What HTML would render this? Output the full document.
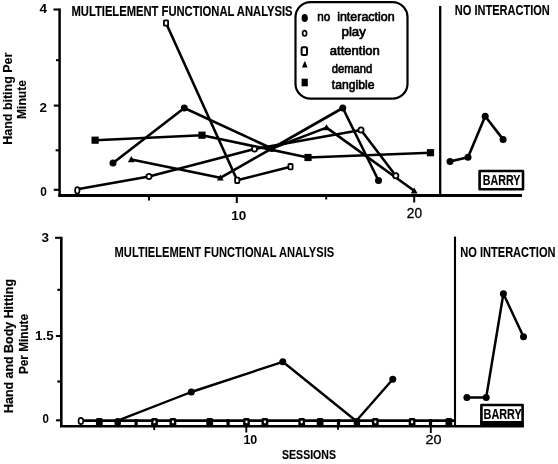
<!DOCTYPE html>
<html><head><meta charset="utf-8"><title>Functional analysis graph</title>
<style>
html,body{margin:0;padding:0;background:#fff;}
svg{display:block;}
text{font-family:"Liberation Sans",sans-serif;fill:#000;stroke:none;}
</style></head>
<body>
<svg width="558" height="464" viewBox="0 0 558 464">
<rect width="558" height="464" fill="#fff"/>
<g stroke="#000" stroke-linecap="butt" stroke-linejoin="round">
<line x1="59.6" y1="8.5" x2="59.6" y2="196.5" stroke-width="2.5"/>
<line x1="53.5" y1="9.5" x2="59.5" y2="9.5" stroke-width="2.1"/>
<line x1="56" y1="60.2" x2="59.5" y2="60.2" stroke-width="2.1"/>
<line x1="53.8" y1="105.6" x2="59.5" y2="105.6" stroke-width="2.1"/>
<line x1="55.6" y1="150.3" x2="59.5" y2="150.3" stroke-width="2.1"/>
<line x1="53.7" y1="189.8" x2="59.5" y2="189.8" stroke-width="2.1"/>
<text x="43.2" y="13.1" font-size="13.5" font-weight="bold" text-anchor="middle">4</text>
<text x="43.2" y="112.1" font-size="13.5" font-weight="bold" text-anchor="middle">2</text>
<text x="43.6" y="196.3" font-size="13.5" font-weight="bold" text-anchor="middle" textLength="6.6" lengthAdjust="spacingAndGlyphs">0</text>
<line x1="58.3" y1="195.5" x2="522" y2="195.5" stroke-width="2.8"/>
<line x1="149" y1="196" x2="149" y2="200.5" stroke-width="2.0"/>
<line x1="236.8" y1="196" x2="236.8" y2="203" stroke-width="2.0"/>
<line x1="326.2" y1="196" x2="326.2" y2="199.5" stroke-width="2.0"/>
<line x1="414.2" y1="196" x2="414.2" y2="202.5" stroke-width="2.0"/>
<text x="231.2" y="220" font-size="13.5" font-weight="bold" text-anchor="start" textLength="15" lengthAdjust="spacingAndGlyphs">10</text>
<text x="406.8" y="217.8" font-size="13.8" font-weight="normal" text-anchor="start" textLength="15.2" lengthAdjust="spacingAndGlyphs" style="stroke:#000;stroke-width:0.3px">20</text>
<line x1="440.2" y1="6" x2="440.2" y2="196" stroke-width="2.3"/>
<text x="71.5" y="16.0" font-size="14" font-weight="bold" text-anchor="start" textLength="221" lengthAdjust="spacingAndGlyphs" style="stroke:#000;stroke-width:0.15px">MULTIELEMENT FUNCTIONAL ANALYSIS</text>
<text x="454.8" y="14.8" font-size="14.2" font-weight="bold" text-anchor="start" textLength="95" lengthAdjust="spacingAndGlyphs" style="stroke:#000;stroke-width:0.15px">NO INTERACTION</text>
<rect x="295.5" y="2.2" width="112" height="96.5" rx="15" ry="15" fill="none" stroke-width="2.2"/>
<ellipse cx="304.7" cy="17.9" rx="3.1" ry="4" fill="#000" stroke="none"/>
<text x="317.2" y="20.5" font-size="13.3" font-weight="normal" text-anchor="start" textLength="13" lengthAdjust="spacingAndGlyphs" style="stroke:#000;stroke-width:0.7px">no</text>
<text x="337.2" y="20.5" font-size="13.3" font-weight="normal" text-anchor="start" textLength="57.4" lengthAdjust="spacingAndGlyphs" style="stroke:#000;stroke-width:0.7px">interaction</text>
<ellipse cx="304.6" cy="33.3" rx="2" ry="2.7" fill="#fff" stroke-width="1.7"/>
<text x="341.5" y="36.2" font-size="13.3" font-weight="normal" text-anchor="start" textLength="24.4" lengthAdjust="spacingAndGlyphs" style="stroke:#000;stroke-width:0.7px">play</text>
<rect x="301.6" y="47.3" width="5.4" height="7.6" rx="1.2" fill="#fff" stroke-width="2"/>
<text x="329.8" y="55.2" font-size="13.3" font-weight="normal" text-anchor="start" textLength="50" lengthAdjust="spacingAndGlyphs" style="stroke:#000;stroke-width:0.7px">attention</text>
<path d="M302,67.6 L307.6,67.6 L305.2,61.4 L304.4,61.4 Z" fill="#000" stroke="none"/>
<text x="331.8" y="72.7" font-size="13.3" font-weight="normal" text-anchor="start" textLength="40.4" lengthAdjust="spacingAndGlyphs" style="stroke:#000;stroke-width:0.7px">demand</text>
<rect x="301.6" y="78.7" width="6.2" height="7.6" fill="#000" stroke="none"/>
<text x="331.8" y="89.3" font-size="13.3" font-weight="normal" text-anchor="start" textLength="42.6" lengthAdjust="spacingAndGlyphs" style="stroke:#000;stroke-width:0.7px">tangible</text>
<polyline points="113,163 184.3,108 271.8,148.5 342.8,108 378.5,180.5" fill="none" stroke-width="2.6"/>
<polyline points="77.3,189.2 149,176.5 254.5,149 361,130 395.8,175.8" fill="none" stroke-width="2.6"/>
<polyline points="166,23 237.2,180.3 290.5,166.7" fill="none" stroke-width="2.6"/>
<polyline points="131.3,159.5 220.3,177.8 271.8,148.5 326.5,127.6 414.2,190.8" fill="none" stroke-width="2.6"/>
<polyline points="95.1,140.2 202,135.2 308,157.5 430.5,152.7" fill="none" stroke-width="2.6"/>
<circle cx="113" cy="163" r="3.5" fill="#000" stroke="none"/>
<circle cx="184.3" cy="108" r="3.5" fill="#000" stroke="none"/>
<circle cx="271.8" cy="148.5" r="3.5" fill="#000" stroke="none"/>
<circle cx="342.8" cy="108" r="3.5" fill="#000" stroke="none"/>
<circle cx="378.5" cy="180.5" r="3.5" fill="#000" stroke="none"/>
<circle cx="149" cy="176.5" r="2.6" fill="#fff" stroke-width="1.8"/>
<circle cx="254.5" cy="149" r="2.6" fill="#fff" stroke-width="1.8"/>
<circle cx="361" cy="130" r="2.6" fill="#fff" stroke-width="1.8"/>
<circle cx="395.8" cy="175.8" r="2.6" fill="#fff" stroke-width="1.8"/>
<ellipse cx="77.3" cy="190.4" rx="2.2" ry="3.3" fill="#fff" stroke-width="1.7"/>
<rect x="163.9" y="20.3" width="4.2" height="5.4" rx="0.8" fill="#fff" stroke-width="1.8"/>
<rect x="235.1" y="177.60000000000002" width="4.2" height="5.4" rx="0.8" fill="#fff" stroke-width="1.8"/>
<rect x="288.4" y="164.0" width="4.2" height="5.4" rx="0.8" fill="#fff" stroke-width="1.8"/>
<path d="M127.9,162.22 L134.70000000000002,162.22 L131.3,156.1 Z" fill="#000" stroke="none"/>
<path d="M216.9,180.52 L223.70000000000002,180.52 L220.3,174.4 Z" fill="#000" stroke="none"/>
<path d="M323.1,130.32 L329.9,130.32 L326.5,124.19999999999999 Z" fill="#000" stroke="none"/>
<path d="M410.8,193.52 L417.59999999999997,193.52 L414.2,187.4 Z" fill="#000" stroke="none"/>
<rect x="91.5" y="136.6" width="7.2" height="7.2" fill="#000" stroke="none"/>
<rect x="198.4" y="131.6" width="7.2" height="7.2" fill="#000" stroke="none"/>
<rect x="304.4" y="153.9" width="7.2" height="7.2" fill="#000" stroke="none"/>
<rect x="426.9" y="149.1" width="7.2" height="7.2" fill="#000" stroke="none"/>
<polyline points="450,161.6 468,157.3 485.2,116.2 503.1,139.4" fill="none" stroke-width="2.6"/>
<circle cx="450" cy="161.6" r="3.5" fill="#000" stroke="none"/>
<circle cx="468" cy="157.3" r="3.5" fill="#000" stroke="none"/>
<circle cx="485.2" cy="116.2" r="3.5" fill="#000" stroke="none"/>
<circle cx="503.1" cy="139.4" r="3.5" fill="#000" stroke="none"/>
<rect x="479.6" y="171" width="43.4" height="18.3" fill="#fff" stroke-width="2.6"/>
<text x="482.8" y="185.4" font-size="14" font-weight="bold" text-anchor="start" textLength="37.5" lengthAdjust="spacingAndGlyphs" style="stroke:#000;stroke-width:0.15px">BARRY</text>
<g transform="translate(11.9,99) rotate(-90)">
<text x="0.3" y="0" font-size="12" font-weight="bold" text-anchor="middle" textLength="92" lengthAdjust="spacingAndGlyphs" style="stroke:#000;stroke-width:0.1px">Hand biting Per</text>
<text x="-0.5" y="14.6" font-size="12" font-weight="bold" text-anchor="middle" textLength="39" lengthAdjust="spacingAndGlyphs" style="stroke:#000;stroke-width:0.1px">Minute</text>
</g>
<line x1="61.3" y1="236.8" x2="61.3" y2="427" stroke-width="2.6"/>
<line x1="55.1" y1="237.8" x2="61.3" y2="237.8" stroke-width="2.1"/>
<line x1="57.3" y1="289.8" x2="61.3" y2="289.8" stroke-width="2.1"/>
<line x1="55.9" y1="336" x2="61.3" y2="336" stroke-width="2.1"/>
<line x1="57.3" y1="381.5" x2="61.3" y2="381.5" stroke-width="2.1"/>
<line x1="56.1" y1="420.3" x2="61.3" y2="420.3" stroke-width="2.1"/>
<text x="45.35" y="241.7" font-size="13.5" font-weight="bold" text-anchor="middle">3</text>
<text x="44.4" y="340.3" font-size="13.5" font-weight="bold" text-anchor="middle" textLength="18.6" lengthAdjust="spacingAndGlyphs">1.5</text>
<text x="45.6" y="422.7" font-size="13.5" font-weight="bold" text-anchor="middle" textLength="6.4" lengthAdjust="spacingAndGlyphs">0</text>
<line x1="60" y1="426.2" x2="523.8" y2="426.2" stroke-width="2.4"/>
<line x1="154.2" y1="426" x2="154.2" y2="430" stroke-width="1.9"/>
<line x1="246.3" y1="426" x2="246.3" y2="432.5" stroke-width="1.9"/>
<line x1="338" y1="426" x2="338" y2="429.8" stroke-width="1.9"/>
<line x1="430.8" y1="426" x2="430.8" y2="433" stroke-width="1.9"/>
<text x="243.4" y="444.1" font-size="13.5" font-weight="bold" text-anchor="start" textLength="13.9" lengthAdjust="spacingAndGlyphs">10</text>
<text x="425.5" y="444.1" font-size="13.5" font-weight="normal" text-anchor="start" textLength="16" lengthAdjust="spacingAndGlyphs" style="stroke:#000;stroke-width:0.3px">20</text>
<text x="309" y="459.3" font-size="13.6" font-weight="bold" text-anchor="middle" textLength="54" lengthAdjust="spacingAndGlyphs" style="stroke:#000;stroke-width:0.15px">SESSIONS</text>
<line x1="455" y1="236.6" x2="455" y2="426" stroke-width="2.1"/>
<text x="114.6" y="257.1" font-size="14.4" font-weight="bold" text-anchor="start" textLength="219.6" lengthAdjust="spacingAndGlyphs" style="stroke:#000;stroke-width:0.05px">MULTIELEMENT FUNCTIONAL ANALYSIS</text>
<text x="460.3" y="256.7" font-size="14.2" font-weight="bold" text-anchor="start" textLength="95.2" lengthAdjust="spacingAndGlyphs" style="stroke:#000;stroke-width:0.1px">NO INTERACTION</text>
<polyline points="82.9,420.6 455,420.6" fill="none" stroke-width="2.8"/>
<polyline points="117.70000000000002,420.6 191.3,392 282.8,361.8 356.2,421 392.8,379.3" fill="none" stroke-width="2.4"/>
<circle cx="191.3" cy="392" r="3.5" fill="#000" stroke="none"/>
<circle cx="282.8" cy="361.8" r="3.5" fill="#000" stroke="none"/>
<circle cx="392.8" cy="379.3" r="3.5" fill="#000" stroke="none"/>
<ellipse cx="80.9" cy="421" rx="2.4" ry="3.1" fill="#fff" stroke-width="1.7"/>
<rect x="95.9" y="418" width="6.8" height="8.5" rx="1.5" fill="#000" stroke="none"/>
<rect x="114.50000000000001" y="418" width="6.4" height="8.5" rx="3" fill="#000" stroke="none"/>
<rect x="134.50000000000003" y="419" width="3.2" height="7" fill="#000" stroke="none"/>
<rect x="151.1" y="418" width="6.8" height="8.5" rx="1.5" fill="#000" stroke="none"/>
<rect x="153.5" y="420.6" width="2" height="2.6" fill="#fff" stroke="none"/>
<rect x="169.5" y="418" width="6.8" height="8.5" rx="1.5" fill="#000" stroke="none"/>
<rect x="171.9" y="420.6" width="2" height="2.6" fill="#fff" stroke="none"/>
<rect x="206.29999999999998" y="418" width="6.8" height="8.5" rx="1.5" fill="#000" stroke="none"/>
<rect x="226.5" y="419" width="3.2" height="7" fill="#000" stroke="none"/>
<rect x="243.1" y="418" width="6.8" height="8.5" rx="1.5" fill="#000" stroke="none"/>
<rect x="245.5" y="420.6" width="2" height="2.6" fill="#fff" stroke="none"/>
<rect x="261.5" y="418" width="6.8" height="8.5" rx="1.5" fill="#000" stroke="none"/>
<rect x="263.9" y="420.6" width="2" height="2.6" fill="#fff" stroke="none"/>
<rect x="298.3" y="418" width="6.8" height="8.5" rx="1.5" fill="#000" stroke="none"/>
<rect x="300.7" y="420.6" width="2" height="2.6" fill="#fff" stroke="none"/>
<rect x="316.70000000000005" y="418" width="6.8" height="8.5" rx="1.5" fill="#000" stroke="none"/>
<rect x="336.9" y="419" width="3.2" height="7" fill="#000" stroke="none"/>
<rect x="353.7" y="418" width="6.4" height="8.5" rx="3" fill="#000" stroke="none"/>
<rect x="371.9" y="418" width="6.8" height="8.5" rx="1.5" fill="#000" stroke="none"/>
<rect x="374.29999999999995" y="420.6" width="2" height="2.6" fill="#fff" stroke="none"/>
<rect x="408.70000000000005" y="418" width="6.8" height="8.5" rx="1.5" fill="#000" stroke="none"/>
<rect x="411.1" y="420.6" width="2" height="2.6" fill="#fff" stroke="none"/>
<rect x="428.9" y="419" width="3.2" height="7" fill="#000" stroke="none"/>
<rect x="445.5" y="418" width="6.8" height="8.5" rx="1.5" fill="#000" stroke="none"/>
<polyline points="466.9,397.4 486.2,397.4 503.4,293.8 523.5,336.7" fill="none" stroke-width="2.5"/>
<circle cx="466.9" cy="397.4" r="3.5" fill="#000" stroke="none"/>
<circle cx="486.2" cy="397.4" r="3.5" fill="#000" stroke="none"/>
<circle cx="503.4" cy="293.8" r="3.5" fill="#000" stroke="none"/>
<circle cx="523.5" cy="336.7" r="3.5" fill="#000" stroke="none"/>
<rect x="481.4" y="405" width="41.2" height="17.2" fill="#fff" stroke-width="2.6"/>
<rect x="480.1" y="421.5" width="43.8" height="5.5" fill="#000" stroke="none"/>
<text x="483.6" y="419.3" font-size="14" font-weight="bold" text-anchor="start" textLength="38.2" lengthAdjust="spacingAndGlyphs" style="stroke:#000;stroke-width:0.15px">BARRY</text>
<g transform="translate(15,346) rotate(-90)">
<text x="0" y="-2" font-size="12" font-weight="bold" text-anchor="middle" textLength="134" lengthAdjust="spacingAndGlyphs" style="stroke:#000;stroke-width:0.2px">Hand and Body Hitting</text>
<text x="2" y="13" font-size="12" font-weight="bold" text-anchor="middle" textLength="60" lengthAdjust="spacingAndGlyphs" style="stroke:#000;stroke-width:0.2px">Per Minute</text>
</g>
</g>
</svg>
</body></html>
